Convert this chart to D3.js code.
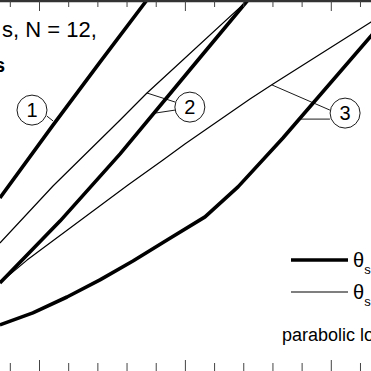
<!DOCTYPE html>
<html>
<head>
<meta charset="utf-8">
<script src="https://cdn.jsdelivr.net/npm/d3@7"></script>
<style>
  html, body { margin: 0; padding: 0; background: #fff; }
  svg { display: block; font-family: "Liberation Sans", Arial, Helvetica, sans-serif; }
</style>
</head>
<body>
<svg width="371" height="371"></svg>
<script>
// Curves (x in tick units, y in arbitrary units)
const thick1X = [-1.34, 0.48, 2.09, 3.70, 4.15];
const thick1Y = [5.80, 8.23, 10.33, 12.40, 12.97];

const thin2X = [-1.34, 0.48, 2.78, 3.70, 4.93, 7.13, 7.40];
const thin2Y = [4.30, 6.20, 8.40, 9.30, 10.40, 12.37, 12.70];

const thick2X = [-1.34, 0.72, 2.78, 5.45, 7.16, 7.44];
const thick2Y = [2.97, 5.03, 7.27, 10.40, 12.40, 12.73];

const thin3X = [-1.34, -0.41, 3.05, 4.25, 5.00, 7.23, 8.02, 11.38, 11.69];
const thin3Y = [2.97, 3.73, 6.23, 7.07, 7.60, 9.10, 9.60, 11.67, 11.87];

const thick3X = [-1.34, -0.21, 0.96, 2.09, 3.22, 4.39, 5.69, 6.82, 8.36, 11.38, 11.69];
const thick3Y = [1.57, 1.97, 2.50, 3.07, 3.70, 4.40, 5.17, 6.17, 7.80, 11.20, 11.57];

const xTicks = [-1, 0, 1, 2, 3, 4, 5, 6, 7, 8, 9, 10, 11];

// Circled labels and their leader lines
const labelText = ["1", "2", "3"];
const labelX = [-0.24, 5.17, 10.49];
const labelY = [8.73, 8.83, 8.63];
const leaders = [
    [[0.27, 8.53], [0.48, 8.37]],
    [[4.66, 9.00], [3.70, 9.30]],
    [[4.66, 8.73], [3.98, 8.63]],
    [[9.97, 8.73], [7.98, 9.57]],
    [[9.97, 8.43], [8.97, 8.43]]
];

const width = 371, height = 371;
const plotTop = 1, plotBottom = 372;

const xScale = d3.scaleLinear().domain([0, 10]).range([39, 330.8]);
const yScale = d3.scaleLinear().domain([0, 12.4]).range([plotBottom, 0]);

const svg = d3.select("svg");

svg.append("defs").append("clipPath")
    .attr("id", "plot")
    .append("rect")
    .attr("x", -20).attr("y", plotTop)
    .attr("width", width + 40).attr("height", plotBottom - plotTop);

// Curves
const series = [
    {x: thick1X, y: thick1Y, w: 3.6},
    {x: thin2X, y: thin2Y, w: 1.2},
    {x: thick2X, y: thick2Y, w: 3.6},
    {x: thin3X, y: thin3Y, w: 1.2},
    {x: thick3X, y: thick3Y, w: 3.6}
];

const line = d3.line()
    .x(d => xScale(d[0]))
    .y(d => yScale(d[1]));

svg.append("g")
    .attr("clip-path", "url(#plot)")
    .selectAll("path")
    .data(series)
    .enter()
    .append("path")
    .attr("d", s => line(s.x.map((v, i) => [v, s.y[i]])))
    .attr("fill", "none")
    .attr("stroke", "#000")
    .attr("stroke-width", s => s.w)
    .attr("stroke-linejoin", "round");

// Frame top and ticks
svg.append("line")
    .attr("x1", 0).attr("x2", width)
    .attr("y1", plotTop).attr("y2", plotTop)
    .attr("stroke", "#333")
    .attr("stroke-width", 2.5);

const minor = xTicks.filter(t => t % 5 != 0);
const major = xTicks.filter(t => t % 5 == 0);

function tickAxis(axis, y) {
    const g = svg.append("g").attr("transform", `translate(0, ${y})`).call(axis);
    g.select(".domain").remove();
    g.selectAll("line").attr("stroke", "#444").attr("stroke-width", 1);
}
tickAxis(d3.axisBottom(xScale).tickValues(minor).tickSize(6).tickFormat(""), plotTop);
tickAxis(d3.axisBottom(xScale).tickValues(major).tickSize(10).tickFormat(""), plotTop);
tickAxis(d3.axisTop(xScale).tickValues(minor).tickSize(9).tickFormat(""), plotBottom);
tickAxis(d3.axisTop(xScale).tickValues(major).tickSize(12).tickFormat(""), plotBottom);

// Leaders
svg.append("g")
    .selectAll("line")
    .data(leaders)
    .enter()
    .append("line")
    .attr("x1", d => xScale(d[0][0])).attr("y1", d => yScale(d[0][1]))
    .attr("x2", d => xScale(d[1][0])).attr("y2", d => yScale(d[1][1]))
    .attr("stroke", "#000")
    .attr("stroke-width", 0.9);

const labels = svg.append("g")
    .selectAll("g")
    .data(labelText)
    .enter()
    .append("g")
    .attr("transform", (d, i) => `translate(${xScale(labelX[i])}, ${yScale(labelY[i])})`);
labels.append("circle")
    .attr("r", 15)
    .attr("fill", "#fff")
    .attr("stroke", "#000")
    .attr("stroke-width", 0.9);
labels.append("text")
    .attr("text-anchor", "middle")
    .attr("dy", 7)
    .style("font-size", "20px")
    .text(d => d);

// Title fragments
svg.append("text")
    .attr("x", 2).attr("y", 37)
    .style("font-size", "22px")
    .text("s, N = 12,");
svg.append("text")
    .attr("x", 5).attr("y", 72)
    .attr("text-anchor", "end")
    .style("font-size", "20px")
    .style("font-weight", "bold")
    .text("s");

// Legend
const legendItems = [{y: 260, w: 3.6}, {y: 292, w: 1.2}];
const legend = svg.append("g");
legend.selectAll("line")
    .data(legendItems)
    .enter()
    .append("line")
    .attr("x1", 291).attr("x2", 348)
    .attr("y1", d => d.y).attr("y2", d => d.y)
    .attr("stroke", "#000")
    .attr("stroke-width", d => d.w);
const legendText = legend.selectAll("text")
    .data(legendItems)
    .enter()
    .append("text")
    .attr("x", 353)
    .attr("y", d => d.y + 7)
    .style("font-size", "20px");
legendText.append("tspan").text("θ");
legendText.append("tspan")
    .attr("dy", 7)
    .style("font-size", "13px")
    .text("s");

svg.append("text")
    .attr("x", 282).attr("y", 341)
    .style("font-size", "18px")
    .text("parabolic load");
</script>
</body>
</html>
